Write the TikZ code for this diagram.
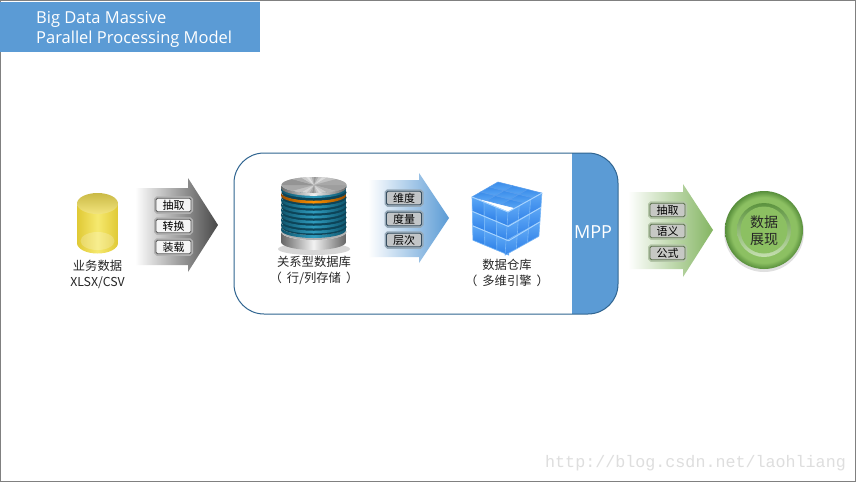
\documentclass[tikz,border=0pt]{standalone}
\usepackage{fontspec}
\setmainfont{Open Sans}
\newfontfamily\cjk{Noto Sans CJK SC}
\newfontfamily\wmfont{Liberation Mono}
\usetikzlibrary{calc}
\definecolor{bluefill}{HTML}{5B9BD5}
\definecolor{boxedge}{HTML}{2F6490}
\definecolor{labeltext}{HTML}{262626}
\definecolor{tealmid}{HTML}{2F9CBE}
\definecolor{tealedge}{HTML}{0F566E}
\definecolor{tealdark}{HTML}{0D4458}
\definecolor{ringa}{HTML}{8CC062}
\definecolor{ringb}{HTML}{578E3B}
\definecolor{olive}{HTML}{84B562}
\pgfdeclareradialshading{ringshade}{\pgfpoint{0bp}{0bp}}{color(0bp)=(ringa); color(21bp)=(ringa); color(25bp)=(ringb); color(50bp)=(ringb)}
\tikzset{
  lbl/.style={font=\cjk\fontsize{12.3}{15.5}\selectfont,text=labeltext,inner sep=0pt,align=center},
  btn/.style={draw=#1!70!black,line width=.8pt,rounded corners=1.5pt,minimum width=35pt,minimum height=13.5pt,inner sep=0pt,
     preaction={draw=#1!60!white,line width=4pt},
     fill=white!92!#1,text=black,font=\cjk\fontsize{11}{12}\selectfont},
  btn/.default={gray}
}
\newcommand{\fadearrow}[9]{% x0 ytop ybot xhead headtop headbot xtip ytip, colours
  \shade[#9] (#1,#2) -- (#4,#2) -- (#4,#5) -- (#7,#8) -- (#4,#6) -- (#4,#3) -- (#1,#3) -- cycle;}
\newcommand{\dbdisc}[5]{% y, thickness, edge colour, mid colour, top-face colour
  \shade[left color=#3,right color=#3,middle color=#4]
    (281,#1) arc[start angle=180,end angle=0,x radius=32.5,y radius=8] -- ++(0,#2)
    arc[start angle=0,end angle=180,x radius=32.5,y radius=8] -- cycle;
  \fill[#5] (314,#1) ellipse[x radius=32.5,y radius=8];}
\newcommand{\cubeface}[5]{% origin, u, v, colour a, colour b
  \foreach \i in {0,1,2}{\foreach \j in {0,1,2}{
    \shade[top color=#4,bottom color=#5,draw=#4!85!white,line width=0.6pt,line join=round]
      ($#1+\i*#2+\j*#3$) -- ($#1+\i*#2+\j*#3+#2$) -- ($#1+\i*#2+\j*#3+#2+#3$) -- ($#1+\i*#2+\j*#3+#3$) -- cycle;
  }}}
\begin{document}
\begin{tikzpicture}[x=1pt,y=-1pt]
\useasboundingbox (0,0) rectangle (856,483);
\fill[white] (0,0) rectangle (856,483);
\draw[draw=black!50,line width=1pt] (0.5,0.5) rectangle (855,481.8);

% title
\fill[bluefill] (0,1.5) rectangle (260,52);
\node[anchor=west,inner sep=0pt,text=white,align=left,font=\fontsize{16.5}{20}\selectfont] (title) at (36,29.5) {Big Data Massive\\Parallel Processing Model};

% main rounded panel
\begin{scope}
  \clip[rounded corners=30pt] (234,153) rectangle (618,314);
  \fill[bluefill] (572,153) rectangle (618,314);
\end{scope}
\draw[boxedge,line width=1pt,rounded corners=30pt] (234,153) rectangle (618,314);
\node[text=white,inner sep=0pt,font=\fontsize{18}{20}\selectfont] (mpp) at (593,232.5) {MPP};

% yellow cylinder
\definecolor{yedge}{HTML}{E0C935}
\definecolor{ymid}{HTML}{F6E96F}
\definecolor{ytop}{HTML}{EEDB52}
\shade[left color=yedge,right color=yedge,middle color=ymid]
  (77,204) -- (77,243) arc[start angle=180,end angle=0,x radius=20.5,y radius=10.5] -- (118,204) -- cycle;
\fill[white,opacity=.22] (97.5,241) ellipse[x radius=17,y radius=9];
\shade[top color=ytop!85!black,bottom color=ytop!75!white]
  (97.5,203.5) ellipse[x radius=20.5,y radius=10.5];
\node[lbl] (biz) at (97.5,274.5) {业务数据\\XLSX/CSV};

% first arrow
\fadearrow{135}{188}{265}{188}{178}{272}{218}{225}{left color=white,middle color=black!25,right color=black!72}
\node[btn] (e1) at (173.5,205) {抽取};
\node[btn] (e2) at (173.5,226) {转换};
\node[btn] (e3) at (173.5,247) {装载};

% database stack
\fill[black!16] (314,249) ellipse[x radius=36,y radius=6];
\dbdisc{232}{10}{black!60}{black!5}{black!30}
\foreach \yy in {227,222.5,217.5,212.5,207.5,202.5,197.5}{\dbdisc{\yy}{3}{tealedge}{tealmid}{tealdark}}
\dbdisc{192.5}{3}{orange!60!black}{orange!85!yellow}{tealdark}
\dbdisc{187}{3}{tealedge}{tealmid}{tealdark}
\dbdisc{185}{2.8}{black!60}{black!6}{black!25}
\begin{scope}
  \clip (314,185) ellipse[x radius=32.5,y radius=8];
  \foreach \a/\c in {0/38,15/30,30/20,45/14,60/22,75/34,90/42,105/34,120/24,135/16,150/24,165/34,180/42,195/32,210/20,225/12,240/20,255/32,270/40,285/32,300/22,315/14,330/24,345/34}{
    \fill[black!\c] (314,185) -- ++(\a:50) arc[start angle=\a,end angle=\a+15.5,radius=50] -- cycle;}
\end{scope}
\node[lbl] (rdb) at (314,270.5) {关系型数据库\\（\hspace{5pt}行/列存储\hspace{5pt}）};

% second arrow
\fadearrow{368}{180}{257}{419}{173}{263}{449}{218}{left color=white,middle color=bluefill!35,right color=bluefill}
\node[btn={boxedge!60!gray}] (d1) at (404,198) {维度};
\node[btn={boxedge!60!gray}] (d2) at (404,219) {度量};
\node[btn={boxedge!60!gray}] (d3) at (404,240) {层次};

% cube
\definecolor{cta}{HTML}{3A8CEA}\definecolor{ctb}{HTML}{5AA6F4}
\definecolor{cla}{HTML}{5CA8F6}\definecolor{clb}{HTML}{2E80E8}
\definecolor{cra}{HTML}{5EA8F5}\definecolor{crb}{HTML}{3585EA}
\definecolor{cgap}{HTML}{A8D4FF}
\coordinate (TO) at (498,182); \coordinate (TU) at (14.7,3.7); \coordinate (TV) at (-8.7,5);
\coordinate (LO) at (472,197); \coordinate (LU) at (12,5);     \coordinate (LV) at (0.3,14.4);
\coordinate (RO) at (508,212); \coordinate (RU) at (11.3,-6.3);\coordinate (RV) at (-1,14.4);
\cubeface{(TO)}{(TU)}{(TV)}{cta}{ctb}
\cubeface{(LO)}{(LU)}{(LV)}{cla}{clb}
\cubeface{(RO)}{(RU)}{(RV)}{cra}{crb}
\foreach \j in {0,1,2}{
  \draw[cgap,line width=.9pt,line join=round] ($(LO)+\j*(LV)$) -- ($(LO)+\j*(LV)+3*(LU)$) -- ($(RO)+\j*(RV)+3*(RU)$);}
\node[lbl] (dw) at (507,273) {数据仓库\\（\hspace{5pt}多维引擎\hspace{5pt}）};

% third arrow
\fadearrow{628}{192}{269}{683}{184}{277}{713}{230}{left color=white,middle color=olive!40,right color=olive}
\node[btn={olive!60!gray}] (s1) at (667.5,210) {抽取};
\node[btn={olive!60!gray}] (s2) at (667.5,231) {语义};
\node[btn={olive!60!gray}] (s3) at (667.5,253) {公式};

% green disc
\fill[black!12] (764,232) circle[radius=40];
\shade[shading=ringshade] (764,230) circle[radius=39];
\shade[top color=ringb!90!ringa,bottom color=ringa!50!white] (764,230) circle[radius=27];
\fill[ringa] (764,230) circle[radius=23.5];
\node[inner sep=0pt,align=center,text=black!85,font=\cjk\fontsize{14}{17}\selectfont] (show) at (764,230.5) {数据\\展现};

% watermark
\node[anchor=west,inner sep=0pt,text=black!13,font=\wmfont\fontsize{16.7}{18}\selectfont] (wm) at (545,463) {http://blog.csdn.net/laohliang};
\end{tikzpicture}
\end{document}
